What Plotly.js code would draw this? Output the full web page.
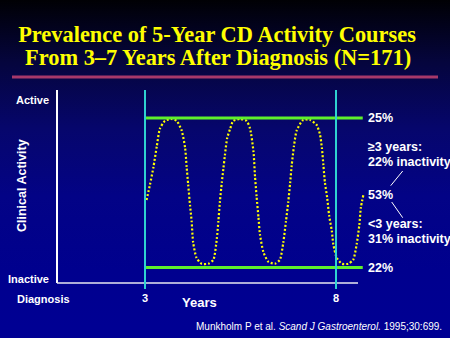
<!DOCTYPE html>
<html>
<head>
<meta charset="utf-8">
<script src="https://cdn.plot.ly/plotly-3.0.1.min.js"></script>
<style>
  html, body { margin: 0; padding: 0; }
  body {
    width: 450px; height: 338px; overflow: hidden;
    background: linear-gradient(to bottom, #000004 0%, #05053c 18%, #06066c 38%, #030386 58%, #00008e 80%, #000094 100%);
  }
  #chart { width: 450px; height: 338px; }
</style>
</head>
<body>
<div id="chart"></div>
<script>
// ---- data ----
const titleLines = ['Prevalence of 5-Year CD Activity Courses', 'From 3\u20137 Years After Diagnosis (N=171)'];

// schematic activity course (years after diagnosis vs clinical activity, 0 = inactive, 100 = active)
const curveYears = [3.04, 3.13, 3.22, 3.31, 3.39, 3.52, 3.70, 3.83, 3.96, 4.05, 4.09, 4.13, 4.18, 4.22, 4.26, 4.35, 4.48, 4.66, 4.79, 4.88, 4.92, 4.96, 5.01, 5.05, 5.09, 5.15, 5.23, 5.31, 5.49, 5.66, 5.75, 5.84, 5.88, 5.92, 5.97, 6.01, 6.10, 6.23, 6.40, 6.53, 6.62, 6.69, 6.75, 6.80, 6.84, 6.90, 6.97, 7.14, 7.32, 7.49, 7.58, 7.63, 7.67, 7.71, 7.77, 7.82, 7.89, 7.93, 8.02, 8.15, 8.32, 8.45, 8.54, 8.61, 8.65, 8.72];
const curveActivity = [43, 51, 60, 71, 80, 84, 85, 84, 79, 70, 60, 51, 40, 32, 21, 13, 10, 10, 12, 23, 32, 42, 52, 59, 66, 75, 80, 84, 85, 84, 80, 68, 55, 45, 34, 25, 16, 11, 10, 12, 21, 32, 42, 52, 61, 71, 79, 84.5, 84.5, 82, 77, 70, 61, 52, 44, 35, 27, 20, 13, 10, 10, 12, 20, 30, 39, 46];

const periodYears = [3, 8];            // vertical markers / tick labels
const periodTickText = ['3', '8'];
const bandLevels = [85.5, 8.0];        // active / inactive reference levels
const bandEndYear = 8.70;
const bandLabels = ['25%', '22%'];
const midLabel = '53%';
const upperNote = ['\u22653 years:', '22% inactivity'];
const lowerNote = ['<3 years:', '31% inactivity'];
const yLevelLabels = ['Active', 'Inactive'];
const originLabel = 'Diagnosis';
const xTitle = 'Years';
const yTitle = 'Clinical Activity';
const citation = ['Munkholm P et al. ', 'Scand J Gastroenterol.', ' 1995;30:699.'];

// ---- layout geometry ----
const W = 450, H = 338;
const M = {l: 57, r: 84, t: 88, b: 48};
const PW = W - M.l - M.r, PH = H - M.t - M.b;
const px = p => (p - M.l) / PW;           // pixel x -> paper
const py = p => (H - M.b - p) / PH;       // pixel y -> paper
const xRange = [0.696, 8.785];
const yRange = [-3.63, 101.04];

const sans = 'Liberation Sans, Arial, Helvetica, sans-serif';
const serif = 'Liberation Serif, Times New Roman, serif';
const white = '#ffffff';

const traces = [{
  type: 'scatter', mode: 'lines',
  x: curveYears, y: curveActivity,
  line: {color: '#ffff00', width: 2.2, dash: '2px,2px', shape: 'spline', smoothing: 0.6},
  hoverinfo: 'skip', showlegend: false
}];

const shapes = [];
// title underline
shapes.push({type: 'line', xref: 'paper', yref: 'paper', x0: px(12), x1: px(438), y0: py(77), y1: py(77), line: {color: '#a6386a', width: 3}});
// axes
shapes.push({type: 'line', xref: 'paper', yref: 'y', x0: 0, x1: 0, y0: 0, y1: 100, line: {color: white, width: 2}});
shapes.push({type: 'line', xref: 'x', yref: 'y', x0: xRange[0], x1: 8.576, y0: 0, y1: 0, line: {color: '#e8e8f0', width: 1.5}});
// reference levels
bandLevels.forEach(v => shapes.push({type: 'line', xref: 'x', yref: 'y', x0: periodYears[0], x1: bandEndYear, y0: v, y1: v, line: {color: '#5ef02c', width: 3}}));
// period markers
periodYears.forEach(yr => shapes.push({type: 'line', xref: 'x', yref: 'y', x0: yr, x1: yr, y0: -3.1, y1: 100, line: {color: '#2fd2d0', width: 2}}));
// leader lines
shapes.push({type: 'line', xref: 'paper', yref: 'paper', x0: px(402.7), y0: py(171), x1: px(390.7), y1: py(185.7), line: {color: white, width: 1}});
shapes.push({type: 'line', xref: 'paper', yref: 'paper', x0: px(391.7), y0: py(202), x1: px(402.7), y1: py(217.7), line: {color: white, width: 1}});

const ann = [];
const lab = (text, x, y, opts = {}) => ann.push(Object.assign({
  text, xref: 'paper', yref: 'paper', x: px(x), y: py(y), showarrow: false,
  xanchor: 'left', yanchor: 'middle', font: {family: sans, size: 12.5, color: white}
}, opts));

// title line 2
lab('<b>' + titleLines[1] + '</b>', 217.5, 57.2, {xanchor: 'center', font: {family: serif, size: 22.4, color: '#ffff00'}});
// right labels
ann.push({text: '<b>' + bandLabels[0] + '</b>', xref: 'paper', yref: 'y', x: px(366), y: bandLevels[0], showarrow: false, xanchor: 'left', yanchor: 'middle', font: {family: sans, size: 12.5, color: white}});
ann.push({text: '<b>' + bandLabels[1] + '</b>', xref: 'paper', yref: 'y', x: px(366), y: bandLevels[1], showarrow: false, xanchor: 'left', yanchor: 'middle', font: {family: sans, size: 12.5, color: white}});
lab('<b>' + upperNote[0] + '</b>', 366, 146.5);
lab('<b>' + upperNote[1] + '</b>', 366, 161.5);
lab('<b>' + midLabel + '</b>', 366, 195);
lab('<b>' + lowerNote[0] + '</b>', 366, 224);
lab('<b>' + lowerNote[1] + '</b>', 366, 239);
// left labels
lab('<b>' + yLevelLabels[0] + '</b>', 51, 100, {xanchor: 'right', font: {family: sans, size: 11, color: white}});
lab('<b>' + yLevelLabels[1] + '</b>', 51, 279, {xanchor: 'right', font: {family: sans, size: 11, color: white}});
lab('<b>' + originLabel + '</b>', 43.5, 299, {xanchor: 'center', font: {family: sans, size: 11, color: white}});
lab('<b>' + xTitle + '</b>', 199, 302.5, {xanchor: 'center', font: {family: sans, size: 13, color: white}});
lab('<b>' + yTitle + '</b>', 22, 186, {xanchor: 'center', textangle: -90, font: {family: sans, size: 12.5, color: white}});
// citation
lab(citation[0] + '<i>' + citation[1] + '</i>' + citation[2], 319, 326, {xanchor: 'center', font: {family: sans, size: 10, color: white}});

const layout = {
  width: W, height: H,
  margin: M,
  paper_bgcolor: 'rgba(0,0,0,0)', plot_bgcolor: 'rgba(0,0,0,0)',
  title: {text: '<b>' + titleLines[0] + '</b>', x: 217 / W, xanchor: 'center', xref: 'container', y: 1 - 34 / H, yanchor: 'middle', yref: 'container', font: {family: serif, size: 22.4, color: '#ffff00'}},
  xaxis: {range: xRange, showgrid: false, zeroline: false, showline: false, ticks: '', tickvals: periodYears, ticktext: periodTickText.map(t => '<b>' + t + '</b>'), tickfont: {family: sans, size: 11, color: white}, fixedrange: true},
  yaxis: {range: yRange, showgrid: false, zeroline: false, showline: false, showticklabels: false, ticks: '', fixedrange: true},
  shapes, annotations: ann, showlegend: false
};

Plotly.newPlot('chart', traces, layout, {displayModeBar: false, staticPlot: true});
</script>
</body>
</html>
